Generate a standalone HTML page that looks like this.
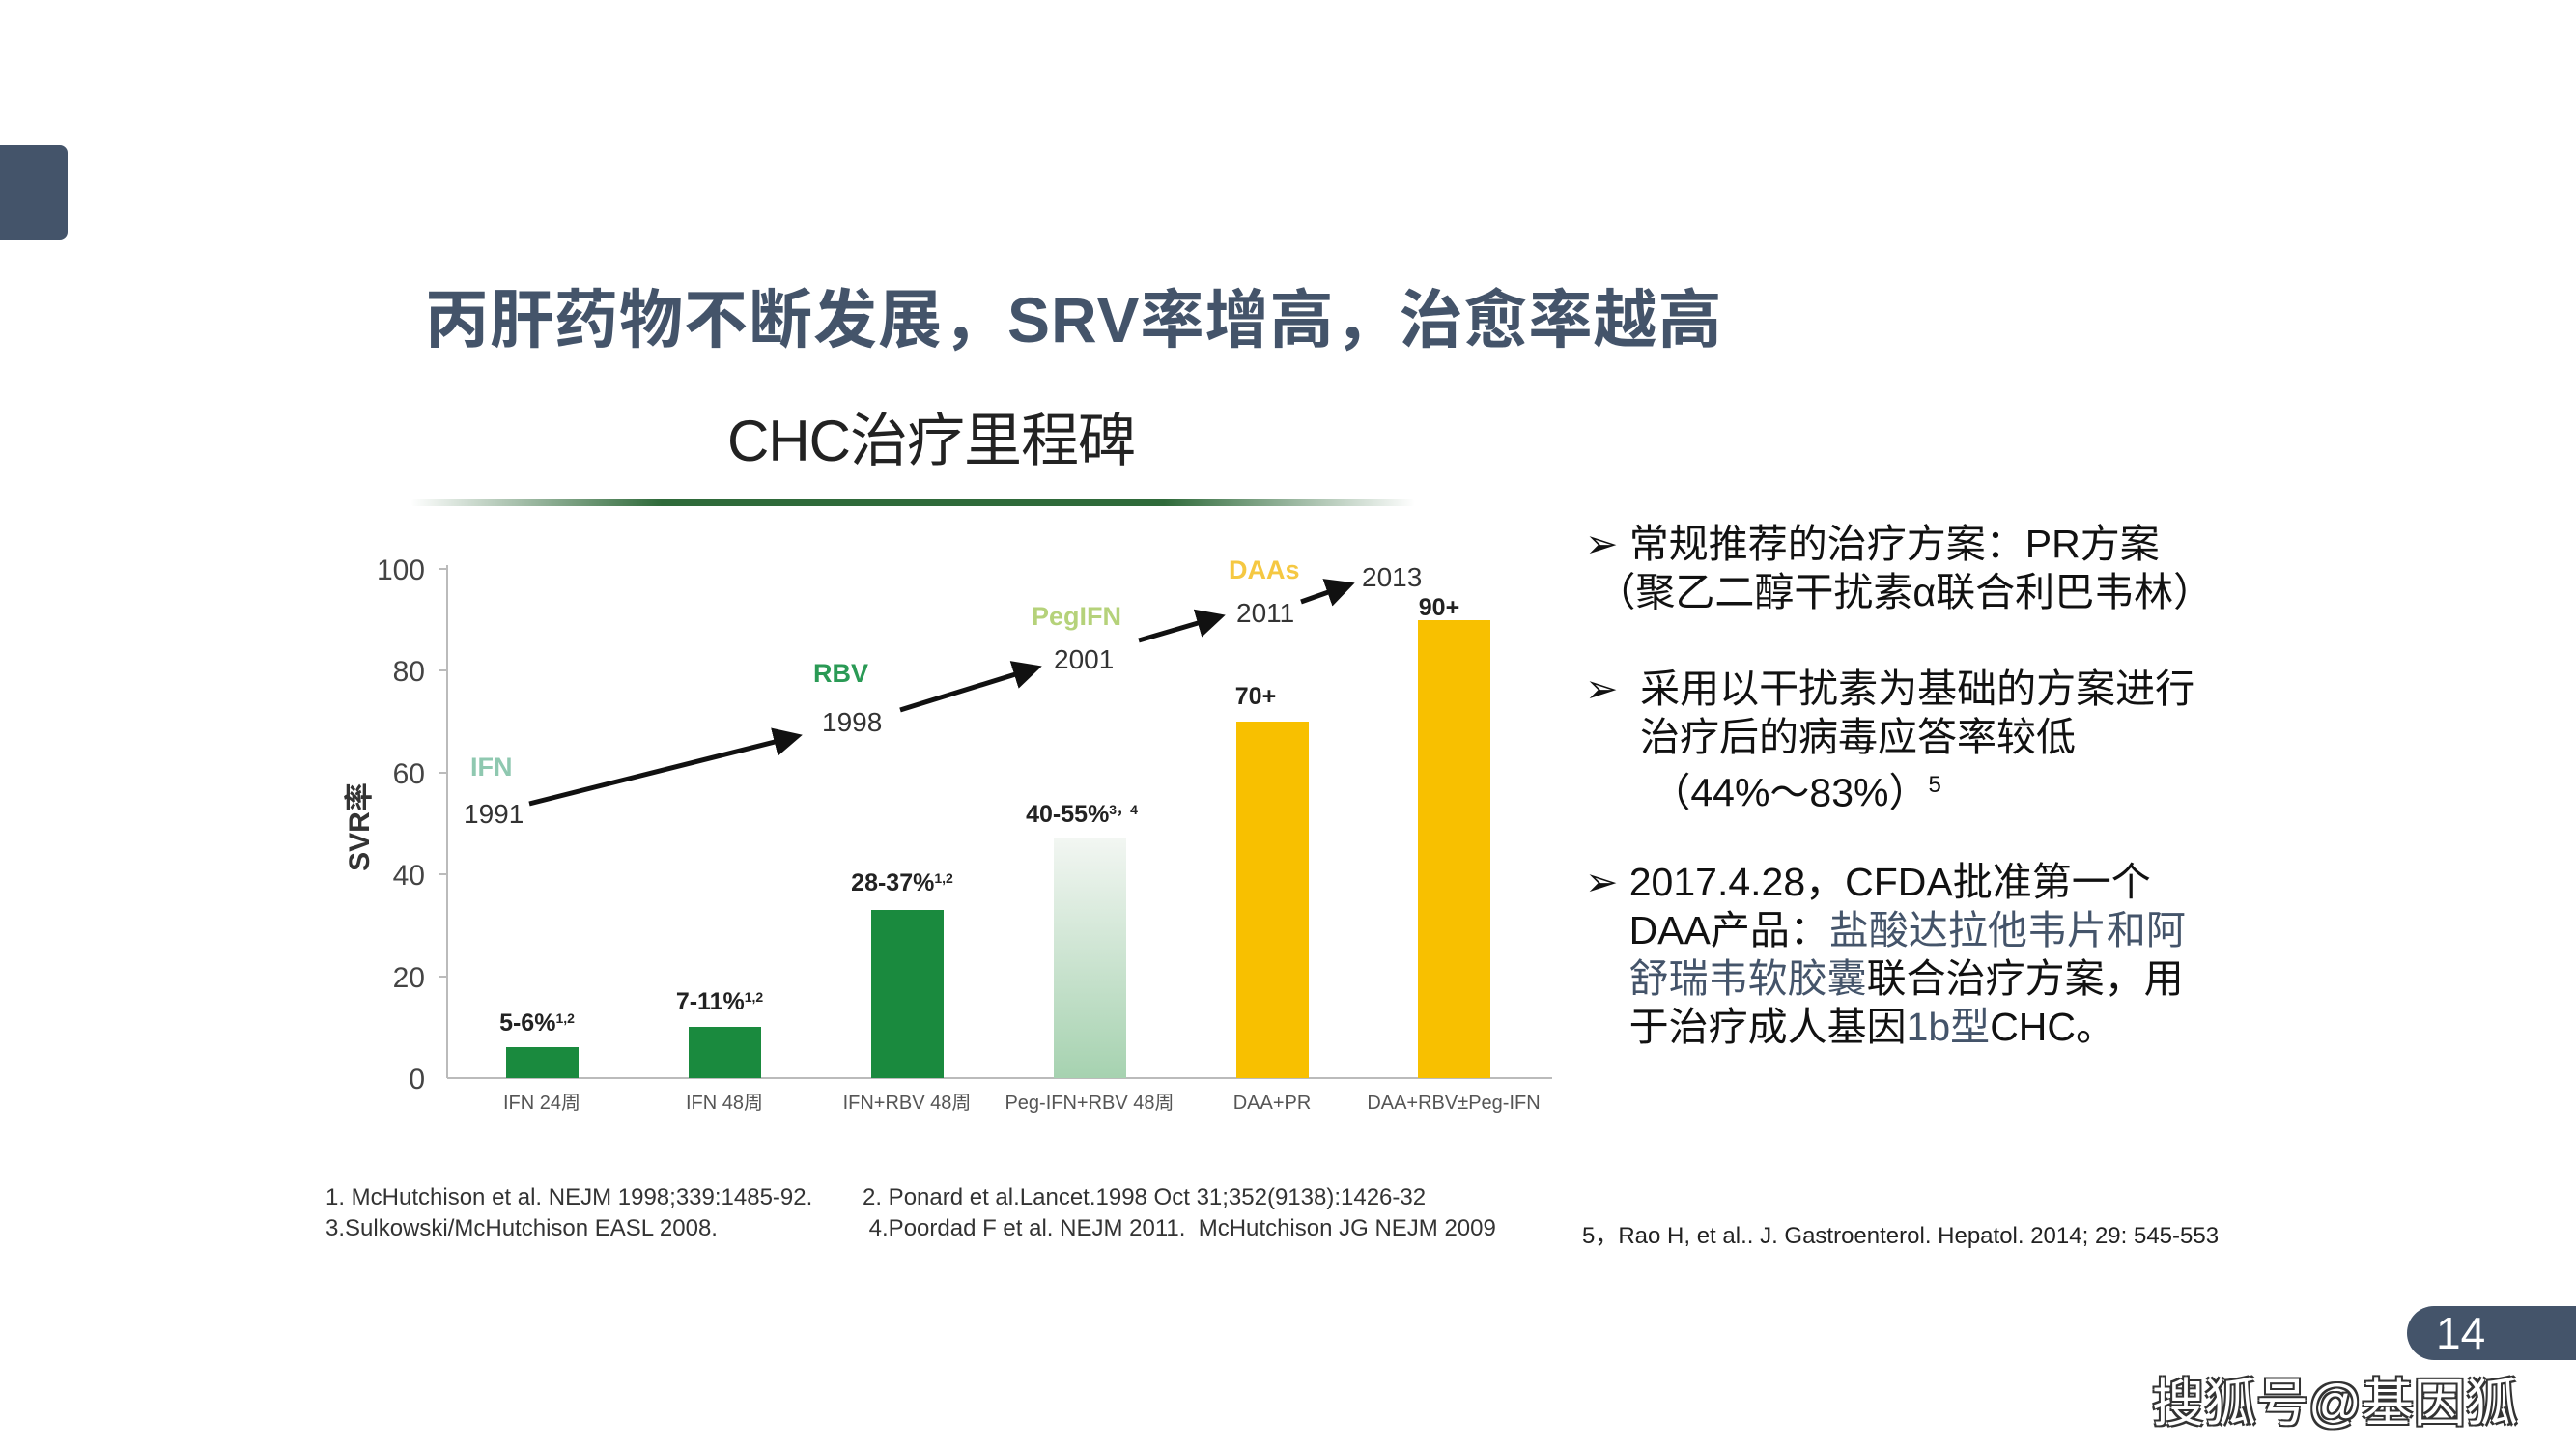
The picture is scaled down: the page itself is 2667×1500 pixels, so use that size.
<!DOCTYPE html>
<html><head><meta charset="utf-8">
<style>
body{margin:0;width:2667px;height:1500px;background:#fff;position:relative;overflow:hidden;font-family:"Liberation Sans","Noto Sans CJK SC",sans-serif;}
.a{position:absolute;white-space:nowrap;}
.r{font-size:41px;color:#111;line-height:50px;}
.b{color:#44546a;}
</style></head><body>
<div class="a" style="left:0;top:150px;width:70px;height:98px;background:#44546a;border-radius:0 8px 8px 0"></div>
<div class="a" style="left:440px;top:278px;font-size:66px;font-weight:bold;color:#44546a;letter-spacing:1px;font-family:'Liberation Sans','Noto Sans CJK SC',sans-serif">丙肝药物不断发展，SRV率增高，治愈率越高</div>
<div class="a" style="left:753px;top:408px;font-size:60px;color:#222;letter-spacing:-1px">CHC治疗里程碑</div>
<div class="a" style="left:425px;top:517px;width:1040px;height:7px;border-radius:4px;background:linear-gradient(90deg,rgba(40,90,50,0),#2f6a3a 25%,#2f6a3a 75%,rgba(40,90,50,0))"></div>
<svg class="a" style="left:0;top:0" width="2667" height="1500">
<defs>
<linearGradient id="pg" x1="0" y1="0" x2="0" y2="1"><stop offset="0" stop-color="#f2f6f2"/><stop offset="1" stop-color="#a6d2b0"/></linearGradient>
<marker id="ar" markerWidth="6" markerHeight="6" refX="5" refY="3" orient="auto"><path d="M0,0L6,3L0,6z" fill="#111"/></marker>
</defs>
<g font-family="Liberation Sans, sans-serif" fill="#444">
<line x1="463" y1="585" x2="463" y2="1116" stroke="#bbb" stroke-width="2"/>
<line x1="463" y1="1116" x2="1607" y2="1116" stroke="#bbb" stroke-width="2"/>
<g font-size="30" text-anchor="end">
<text x="440" y="1127">0</text><text x="440" y="1022">20</text><text x="440" y="916">40</text><text x="440" y="811">60</text><text x="440" y="705">80</text><text x="440" y="600">100</text>
</g>
<g stroke="#bbb" stroke-width="2"><line x1="455" y1="1011" x2="463" y2="1011"/><line x1="455" y1="905" x2="463" y2="905"/><line x1="455" y1="800" x2="463" y2="800"/><line x1="455" y1="694" x2="463" y2="694"/><line x1="455" y1="589" x2="463" y2="589"/></g>
<text transform="translate(382,856) rotate(-90)" font-size="30" font-weight="bold" fill="#333" text-anchor="middle" font-family="Liberation Sans, Noto Sans CJK SC, sans-serif">SVR率</text>
<rect x="524" y="1084" width="75" height="32" fill="#1a8a3e"/>
<rect x="713" y="1063" width="75" height="53" fill="#1a8a3e"/>
<rect x="902" y="942" width="75" height="174" fill="#1a8a3e"/>
<rect x="1091" y="868" width="75" height="248" fill="url(#pg)"/>
<rect x="1280" y="747" width="75" height="369" fill="#f8c000"/>
<rect x="1468" y="642" width="75" height="474" fill="#f8c000"/>
<g font-size="20" text-anchor="middle" fill="#555" font-family="Liberation Sans, Noto Sans CJK SC, sans-serif">
<text x="561" y="1148">IFN 24周</text><text x="750" y="1148">IFN 48周</text><text x="939" y="1148">IFN+RBV 48周</text><text x="1128" y="1148">Peg-IFN+RBV 48周</text><text x="1317" y="1148">DAA+PR</text><text x="1505" y="1148">DAA+RBV±Peg-IFN</text>
</g>
<g font-size="25" font-weight="bold" fill="#222" text-anchor="middle">
<text x="556" y="1067">5-6%<tspan font-size="14" dy="-8">1,2</tspan></text>
<text x="745" y="1045">7-11%<tspan font-size="14" dy="-8">1,2</tspan></text>
<text x="934" y="922">28-37%<tspan font-size="14" dy="-8">1,2</tspan></text>
<text x="1120" y="851">40-55%<tspan font-size="14" dy="-8">3，4</tspan></text>
<text x="1300" y="729">70+</text>
<text x="1490" y="637">90+</text>
</g>
<g font-size="27" font-weight="bold">
<text x="487" y="803" fill="#8fc8b0">IFN</text>
<text x="842" y="706" fill="#2a9a55">RBV</text>
<text x="1068" y="647" fill="#b5d27a">PegIFN</text>
<text x="1272" y="599" fill="#f5c842">DAAs</text>
</g>
<g font-size="28" fill="#333">
<text x="480" y="852">1991</text><text x="851" y="757">1998</text><text x="1091" y="692">2001</text><text x="1280" y="644">2011</text><text x="1410" y="607">2013</text>
</g>
<g stroke="#111" stroke-width="5" marker-end="url(#ar)">
<line x1="548" y1="832" x2="826" y2="762"/>
<line x1="932" y1="735" x2="1074" y2="691"/>
<line x1="1179" y1="663" x2="1264" y2="638"/>
<line x1="1347" y1="623" x2="1398" y2="605"/>
</g>
</g>
</svg>
<div class="a" style="left:337px;top:1224px;font-size:24px;color:#333;line-height:32px">1. McHutchison et al. NEJM 1998;339:1485-92.<br>3.Sulkowski/McHutchison EASL 2008.</div>
<div class="a" style="left:893px;top:1224px;font-size:24px;color:#333;line-height:32px">2. Ponard et al.Lancet.1998 Oct 31;352(9138):1426-32<br>&nbsp;4.Poordad F et al. NEJM 2011.&nbsp; McHutchison JG NEJM 2009</div>
<div class="a r" style="left:1641px;top:538px">➢ 常规推荐的治疗方案：PR方案<br>&nbsp;（聚乙二醇干扰素α联合利巴韦林）</div>
<div class="a r" style="left:1641px;top:688px">➢&nbsp; 采用以干扰素为基础的方案进行<br>&nbsp;&nbsp;&nbsp;&nbsp;&nbsp;治疗后的病毒应答率较低<br>&nbsp;&nbsp;&nbsp;&nbsp;&nbsp;&nbsp;（44%～83%）<sup style="font-size:24px">5</sup></div>
<div class="a r" style="left:1641px;top:888px">➢ 2017.4.28，CFDA批准第一个<br>&nbsp;&nbsp;&nbsp;&nbsp;DAA产品：<span class="b">盐酸达拉他韦片和阿</span><br>&nbsp;&nbsp;&nbsp;&nbsp;<span class="b">舒瑞韦软胶囊</span>联合治疗方案，用<br>&nbsp;&nbsp;&nbsp;&nbsp;于治疗成人基因<span class="b">1b型</span>CHC。</div>
<div class="a" style="left:1638px;top:1259px;font-size:24px;color:#222">5，Rao H, et al.. J. Gastroenterol. Hepatol. 2014; 29: 545-553</div>
<div class="a" style="left:2492px;top:1352px;width:175px;height:56px;background:#44546a;border-radius:28px 0 0 28px"></div>
<div class="a" style="left:2522px;top:1353px;font-size:46px;color:#fff">14</div>
<div class="a" style="left:2228px;top:1408px;font-size:54px;color:#fff;text-shadow:-2px -2px 0 #333,2px -2px 0 #333,-2px 2px 0 #333,2px 2px 0 #333">搜狐号@基因狐</div>
</body></html>
